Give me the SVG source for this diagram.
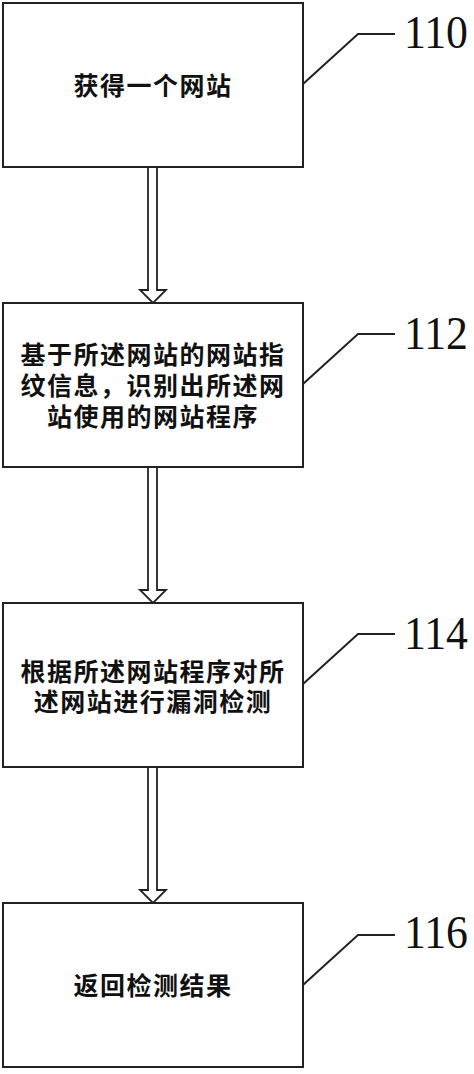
<svg xmlns="http://www.w3.org/2000/svg" width="474" height="1074" viewBox="0 0 474 1074">
<style>
.box{fill:#fff;stroke:#222;stroke-width:2}
.lead{fill:none;stroke:#222;stroke-width:2}
.arr{fill:#fff;stroke:#222;stroke-width:1.8;stroke-linejoin:miter}
.t{font-family:"Noto Sans CJK SC",sans-serif;font-size:25px;font-weight:bold;fill:#111;text-anchor:middle;letter-spacing:1.5px}
.n{font-family:"Liberation Serif",serif;font-size:47px;fill:#111}
</style>
<rect width="474" height="1074" fill="#fff"/>
<g id="connectors">
<path class="arr" d="M148,167 V290 H140 L153,303 L166,290 H157 V167 Z"/>
<path class="arr" d="M148,467 V590 H140 L153,603 L166,590 H157 V467 Z"/>
<path class="arr" d="M148,767 V890 H140 L153,903 L166,890 H157 V767 Z"/>
</g>
<g id="n110">
<rect class="box" x="3" y="3" width="300" height="164"/>
<text class="t" x="153" y="95">获得一个网站</text>
<path class="lead" d="M303,84 L358,34 H395"/>
<text class="n" x="404" y="48" textLength="64" lengthAdjust="spacingAndGlyphs">110</text>
</g>
<g id="n112">
<rect class="box" x="3" y="303" width="300" height="164"/>
<text class="t" x="153" y="364"><tspan x="153" y="364">基于所述网站的网站指</tspan><tspan x="153" y="395">纹信息，识别出所述网</tspan><tspan x="153" y="426">站使用的网站程序</tspan></text>
<path class="lead" d="M303,384 L358,334 H395"/>
<text class="n" x="404" y="349" textLength="64" lengthAdjust="spacingAndGlyphs">112</text>
</g>
<g id="n114">
<rect class="box" x="3" y="603" width="300" height="164"/>
<text class="t" x="153" y="681"><tspan x="153" y="681">根据所述网站程序对所</tspan><tspan x="153" y="711">述网站进行漏洞检测</tspan></text>
<path class="lead" d="M303,684 L358,634 H395"/>
<text class="n" x="404" y="649" textLength="64" lengthAdjust="spacingAndGlyphs">114</text>
</g>
<g id="n116">
<rect class="box" x="3" y="903" width="300" height="164"/>
<text class="t" x="153" y="995">返回检测结果</text>
<path class="lead" d="M303,985 L358,935 H395"/>
<text class="n" x="404" y="948" textLength="64" lengthAdjust="spacingAndGlyphs">116</text>
</g>
</svg>
